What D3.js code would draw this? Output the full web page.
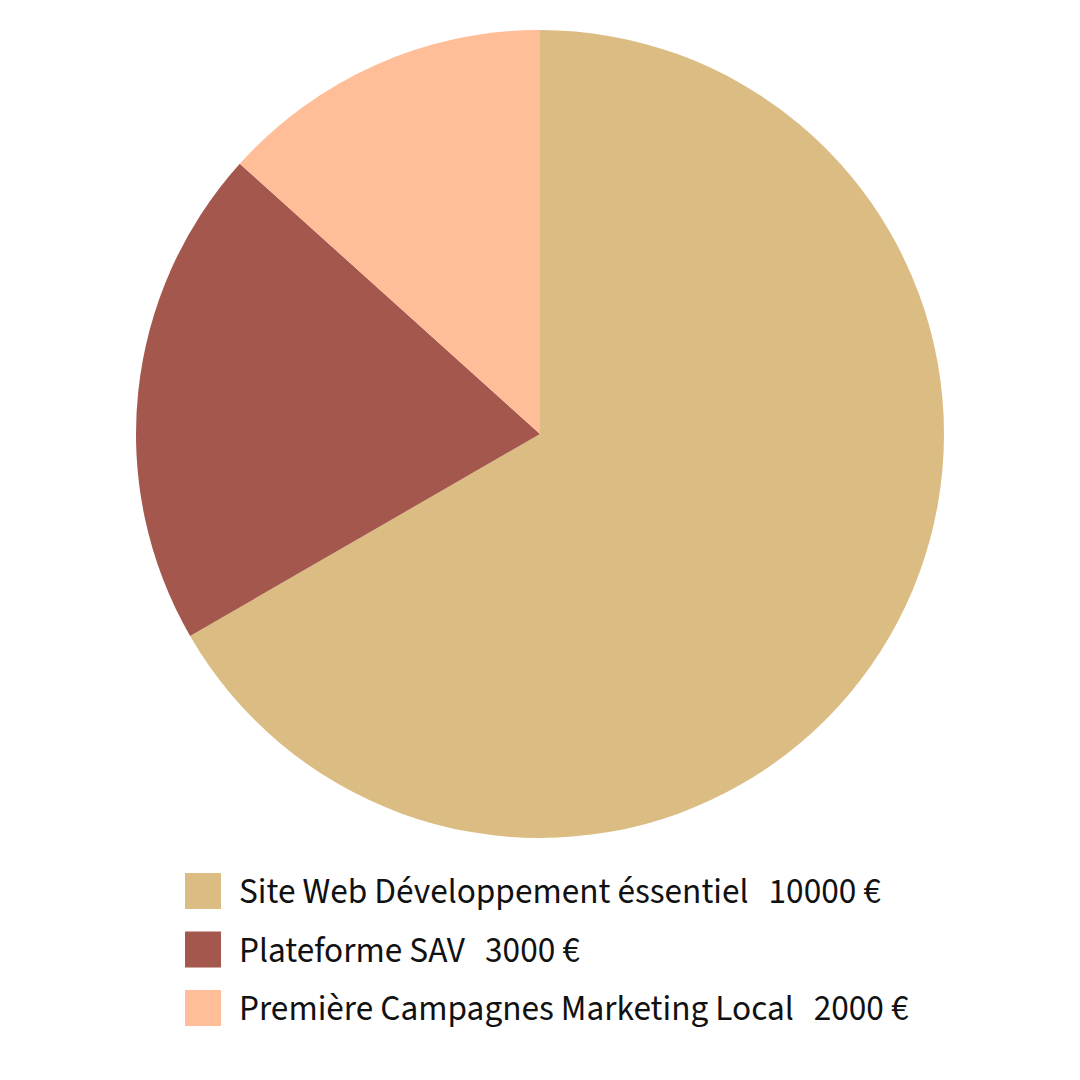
<!DOCTYPE html>
<html><head><meta charset="utf-8">
<script src="https://cdn.jsdelivr.net/npm/d3@7"></script>
<style>html,body{margin:0;padding:0;background:#fff;}</style>
</head><body>
<svg id="c" width="1080" height="1080"></svg>
<script>
const categories = ["Site Web Développement éssentiel", "Plateforme SAV", "Première Campagnes Marketing Local"];
const values = [10000, 3000, 2000];
const valueLabels = ["10000 €", "3000 €", "2000 €"];
const colors = ["#DBBC82", "#A3574D", "#FFBE98"];

const svg = d3.select("#c");
const cx = 540, cy = 434, r = 404;
const data = categories.map((c, i) => ({cat: c, value: values[i], label: valueLabels[i], color: colors[i]}));
const pie = d3.pie().value(d => d.value).sort(null);
const arc = d3.arc().innerRadius(0).outerRadius(r);
svg.append("g").attr("transform", `translate(${cx},${cy})`)
  .selectAll("path").data(pie(data)).join("path")
  .attr("d", arc).attr("fill", d => d.data.color);

const font = "'Source Sans Pro','Source Sans 3',Lato,'Noto Sans',sans-serif";
const lg = svg.append("g");
const rowY = d3.scalePoint().domain(categories).range([873, 990]);
const rows = lg.selectAll("g").data(data).join("g")
  .attr("transform", d => `translate(185,${rowY(d.cat)})`);
rows.append("rect").attr("width", 36).attr("height", 36).attr("fill", d => d.color);
const t = rows.append("text").attr("x", 54).attr("y", 30)
  .attr("font-family", font).attr("font-size", 35.3).attr("fill", "#111");
t.append("tspan").text(d => d.cat);
t.append("tspan").attr("dx", 20).text(d => d.label);
</script>
</body></html>
